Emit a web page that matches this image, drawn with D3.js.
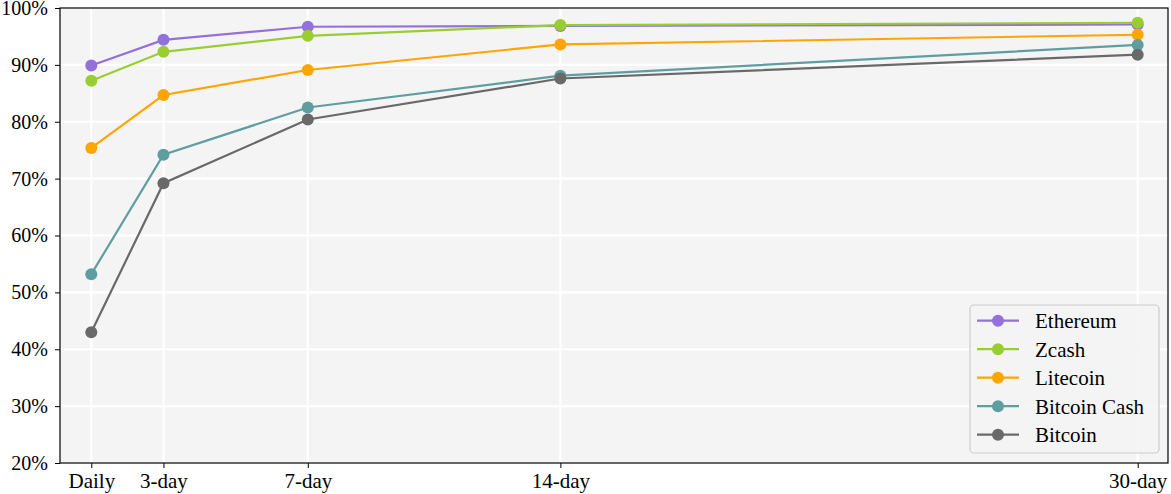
<!DOCTYPE html>
<html>
<head>
<meta charset="utf-8">
<script src="https://cdn.jsdelivr.net/npm/d3@7"></script>
<style>
  html, body { margin: 0; padding: 0; background: #ffffff; }
  svg { display: block; }
</style>
</head>
<body>
<svg id="chart" width="1171" height="494"></svg>
<script>
// ---- data ----
const categories = ["Daily", "3-day", "7-day", "14-day", "30-day"];
const days = [1, 3, 7, 14, 30];
const seriesNames = ["Ethereum", "Zcash", "Litecoin", "Bitcoin Cash", "Bitcoin"];
const seriesColors = ["#9370DB", "#9ACD32", "#FFA500", "#5F9EA0", "#696969"];
const ethereum = [89.9, 94.4, 96.7, 96.85, 97.1];
const zcash = [87.2, 92.3, 95.1, 97.0, 97.4];
const litecoin = [75.4, 84.7, 89.1, 93.6, 95.3];
const bitcoinCash = [53.2, 74.2, 82.5, 88.1, 93.5];
const bitcoin = [43.0, 69.2, 80.4, 87.6, 91.8];
const yTicks = [20, 30, 40, 50, 60, 70, 80, 90, 100];

const seriesValues = [ethereum, zcash, litecoin, bitcoinCash, bitcoin];
const FONT = "Liberation Serif";

// ---- layout ----
const svg = d3.select("#chart");
const L = 60, T = 8, R = 1168, B = 463;

const x = d3.scaleLinear().domain([0.1325, 30.84]).range([L, R]);
const y = d3.scaleLinear().domain([20, 100]).range([B, T]);

svg.append("rect").attr("x", L).attr("y", T).attr("width", R - L).attr("height", B - T)
  .attr("fill", "#f4f4f4");

const grid = svg.append("g");
grid.selectAll("line.h").data(yTicks).join("line")
  .attr("x1", L).attr("x2", R)
  .attr("y1", d => y(d)).attr("y2", d => y(d))
  .attr("stroke", "#ffffff").attr("stroke-width", 2.2);
grid.selectAll("line.v").data(days).join("line")
  .attr("y1", T).attr("y2", B)
  .attr("x1", d => x(d)).attr("x2", d => x(d))
  .attr("stroke", "#ffffff").attr("stroke-width", 2.2);

const yAxis = d3.axisLeft(y).tickValues(yTicks).tickSize(5).tickPadding(7)
  .tickFormat(d => d + "%");
const gy = svg.append("g").attr("transform", `translate(${L},0)`).call(yAxis);
gy.attr("font-family", FONT).attr("font-size", 20);
gy.select(".domain").remove();
gy.selectAll("line").attr("stroke", "#000");
gy.selectAll("text").attr("fill", "#000");

const xAxis = d3.axisBottom(x).tickValues(days).tickSize(5).tickPadding(5)
  .tickFormat((d, i) => categories[i]);
const gx = svg.append("g").attr("transform", `translate(0,${B})`).call(xAxis);
gx.attr("font-family", FONT).attr("font-size", 21);
gx.select(".domain").remove();
gx.selectAll("line").attr("stroke", "#000");
gx.selectAll("text").attr("fill", "#000");

const line = d3.line().x((d, i) => x(days[i])).y(d => y(d));
seriesValues.forEach((vals, si) => {
  const g = svg.append("g");
  g.append("path").datum(vals).attr("d", line)
    .attr("fill", "none").attr("stroke", seriesColors[si]).attr("stroke-width", 2.2);
  g.selectAll("circle").data(vals).join("circle")
    .attr("cx", (d, i) => x(days[i])).attr("cy", d => y(d)).attr("r", 6)
    .attr("fill", seriesColors[si]);
});

svg.append("rect").attr("x", L).attr("y", T).attr("width", R - L).attr("height", B - T)
  .attr("fill", "none").attr("stroke", "#000").attr("stroke-width", 1.2);

const lg = svg.append("g");
lg.append("rect").attr("x", 970).attr("y", 305).attr("width", 189).attr("height", 148)
  .attr("rx", 4).attr("fill", "#f4f4f4").attr("fill-opacity", 0.9)
  .attr("stroke", "#cccccc").attr("stroke-width", 1.2);
seriesNames.forEach((name, i) => {
  const yy = 320.7 + i * 28.5;
  lg.append("line").attr("x1", 977).attr("x2", 1019).attr("y1", yy).attr("y2", yy)
    .attr("stroke", seriesColors[i]).attr("stroke-width", 2.2);
  lg.append("circle").attr("cx", 998).attr("cy", yy).attr("r", 6).attr("fill", seriesColors[i]);
  lg.append("text").attr("x", 1035).attr("y", yy).attr("dy", "0.35em")
    .attr("font-family", FONT).attr("font-size", 21).attr("fill", "#000").text(name);
});
</script>
</body>
</html>
